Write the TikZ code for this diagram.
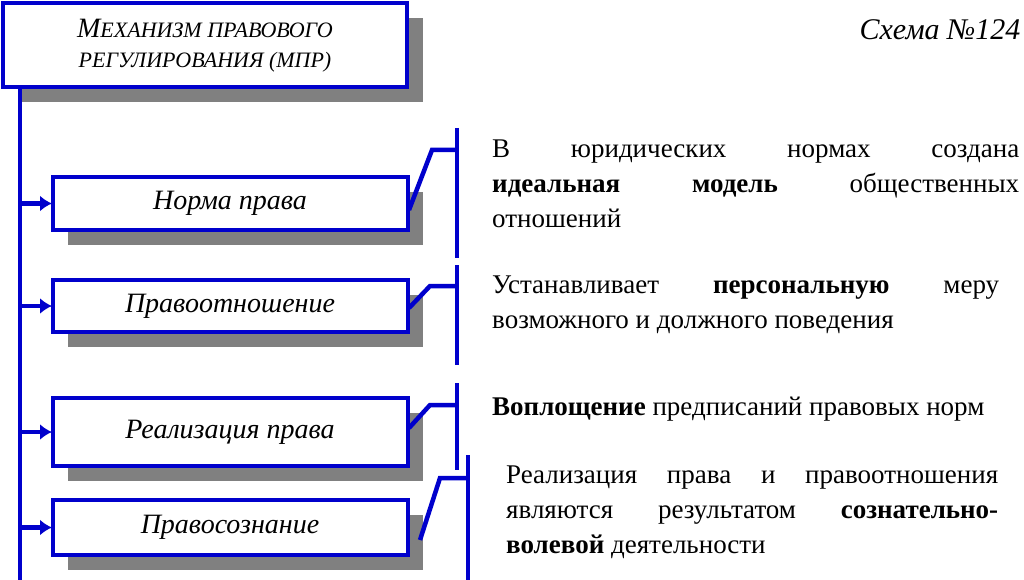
\documentclass[tikz,border=0pt]{standalone}
\usepackage{fontspec}
\usetikzlibrary{arrows.meta}
\setmainfont{Liberation Serif}
\begin{document}
\begin{tikzpicture}[x=1pt,y=-1pt,
  bl/.style={draw=blue!80!black,line width=4.5pt},
  box/.style={bl,fill=white},
  shad/.style={fill=black!50},
  lbl/.style={font=\itshape\fontsize{28}{32}\selectfont},
  txt/.style={anchor=north west,inner sep=0pt,align=justify,font=\fontsize{27}{35}\selectfont}]
\useasboundingbox (0,0) rectangle (1024,580);
% top box
\fill[shad] (18,18) rectangle (423,102);
\draw[box] (3,3) rectangle (407,87);
\node[lbl,align=center] (mpr) at (205,46) {{\fontsize{28}{30}\selectfont М}{\fontsize{22}{30}\selectfont ЕХАНИЗМ ПРАВОВОГО}\\[-2pt]{\fontsize{22}{30}\selectfont РЕГУЛИРОВАНИЯ (МПР)}};
\node[font=\itshape\fontsize{30}{34}\selectfont] (sch) at (940,30) {Схема №124};
% spine
\coordinate (s0) at (20,87);
\coordinate (s1) at (20,580);
\draw[bl] (s0) -- (s1);
% boxes
\foreach \n/\t/\b/\s in {a/177/230/Норма права, b/280/332/Правоотношение, c/398/466/Реализация права, d/500/555/Правосознание}{
  \fill[shad] (68,\t+15) rectangle (423,\b+15);
  \draw[box] (53,\t) rectangle (408,\b);
  \node[lbl] (\n) at (230,{(\t+\b)/2}) {\s};
  \coordinate (\n l) at (20,{(\t+\b)/2});
  \draw[blue!80!black,line width=4.5pt,-{Latex[length=12pt,width=16pt]}] (\n l) -- (52,{(\t+\b)/2});
}
% bars and connectors
\draw[bl] (457,128) -- (457,258);
\draw[bl] (409,210) -- (432,150) -- (457,150);
\draw[bl] (457,265) -- (457,365);
\draw[bl] (409,308) -- (430,286) -- (457,286);
\draw[bl] (457,383) -- (457,470);
\draw[bl] (409,428) -- (430,405) -- (457,405);
\draw[bl] (468,455) -- (468,580);
\draw[bl] (420,540) -- (440,478) -- (468,478);
% texts
\node[txt,text width=527pt] (t1) at (492,140) {В юридических нормах создана\linebreak \textbf{идеальная модель} общественных\linebreak отношений};
\node[txt,text width=507pt] (t2) at (492,276) {Устанавливает \textbf{персональную} меру\linebreak возможного и должного поведения};
\node[txt,text width=530pt] (t3) at (492,397) {\textbf{Воплощение} предписаний правовых норм};
\node[txt,text width=492pt] (t4) at (506,466) {Реализация права и правоотношения\linebreak являются результатом \textbf{сознательно-}\linebreak\textbf{волевой} деятельности};
\end{tikzpicture}
\end{document}
